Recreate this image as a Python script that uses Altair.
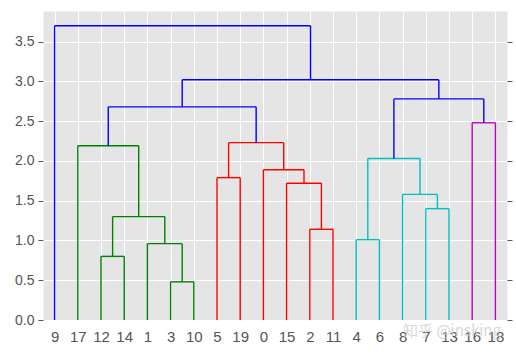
import altair as alt
import pandas as pd

# leaf order along the x axis (scipy dendrogram style)
leaf_order = [9, 17, 12, 14, 1, 3, 10, 5, 19, 0, 15, 2, 11, 4, 6, 8, 7, 13, 16, 18]
# linkage: cluster id of merge i is 20 + i
merge_left = [3, 12, 1, 4, 2, 21, 7, 8, 15, 5, 0, 23, 17, 29, 16, 32, 31, 35, 9]
merge_right = [10, 14, 20, 6, 11, 22, 13, 26, 24, 19, 28, 27, 25, 30, 18, 33, 34, 36, 37]
merge_height = [0.48, 0.80, 0.96, 1.01, 1.14, 1.30, 1.40, 1.58, 1.72, 1.79,
                1.89, 2.03, 2.19, 2.23, 2.48, 2.68, 2.78, 3.02, 3.70]
merge_color = ["g", "g", "g", "c", "r", "g", "c", "c", "r", "r",
               "r", "c", "g", "r", "m", "b", "b", "b", "b"]
y_ticks = [0.0, 0.5, 1.0, 1.5, 2.0, 2.5, 3.0, 3.5]
watermark = ["知乎 @insking"]

n = len(leaf_order)
pos = {leaf: 5 + 10 * i for i, leaf in enumerate(leaf_order)}
hgt = {leaf: 0.0 for leaf in leaf_order}
rows = []
for i, (a, b, h, c) in enumerate(zip(merge_left, merge_right, merge_height, merge_color)):
    xa, xb = pos[a], pos[b]
    rows.append(dict(x=xa, x2=xa, y=hgt[a], y2=h, color=c))
    rows.append(dict(x=xa, x2=xb, y=h, y2=h, color=c))
    rows.append(dict(x=xb, x2=xb, y=hgt[b], y2=h, color=c))
    pos[n + i] = (xa + xb) / 2
    hgt[n + i] = h
df = pd.DataFrame(rows)

tick_pos = [5 + 10 * i for i in range(n)]
label_expr = "[" + ",".join(f"'{l}'" for l in leaf_order) + "][round((datum.value-5)/10)]"
ymax = max(merge_height) * 1.05

xscale = alt.Scale(domain=[0, 10 * n], nice=False, zero=False)
yscale = alt.Scale(domain=[0, ymax], nice=False)
font = "Liberation Sans"

lines = alt.Chart(df).mark_rule(strokeWidth=1.4).encode(
    x=alt.X("x:Q", scale=xscale, axis=alt.Axis(
        values=tick_pos, labelExpr=label_expr, grid=True, gridColor="white",
        gridWidth=1, ticks=False, domain=False, labelFontSize=15,
        labelColor="#555555", labelPadding=9, title=None, labelFont=font,
        labelAngle=0)),
    x2="x2:Q",
    y=alt.Y("y:Q", scale=yscale, axis=alt.Axis(
        values=y_ticks, format=".1f", grid=True, gridColor="white", gridWidth=1,
        domain=False, tickSize=5, tickColor="#555555", labelFontSize=14,
        labelColor="#555555", labelPadding=4, title=None, labelFont=font)),
    y2="y2:Q",
    color=alt.Color("color:N", legend=None, scale=alt.Scale(
        domain=["b", "g", "r", "c", "m"],
        range=["#0000ff", "#008000", "#ff0000", "#00bfbf", "#bf00bf"])),
)

right_axis = alt.Chart(pd.DataFrame({"v": y_ticks})).mark_rule(opacity=0).encode(
    y=alt.Y("v:Q", scale=yscale, axis=alt.Axis(
        orient="right", values=y_ticks, labels=False, grid=False, domain=False,
        tickSize=5, tickColor="#555555", title=None)),
)

wm = alt.Chart(pd.DataFrame({"t": watermark})).mark_text(
    fontSize=15, color="#cfcfcf", opacity=0.8, align="center", baseline="middle",
    font="Noto Sans CJK SC",
).encode(text="t:N", x=alt.value(409), y=alt.value(320))

chart = alt.layer(lines, right_axis, wm).resolve_axis(y="independent").properties(
    width=464, height=309,
    autosize=alt.AutoSizeParams(type="none"),
    padding={"left": 43, "top": 11, "right": 9, "bottom": 35},
    background="white",
).configure_view(fill="#e5e5e5", strokeOpacity=0)

chart.save("out.html", embed_options={"renderer": "svg", "actions": False})
